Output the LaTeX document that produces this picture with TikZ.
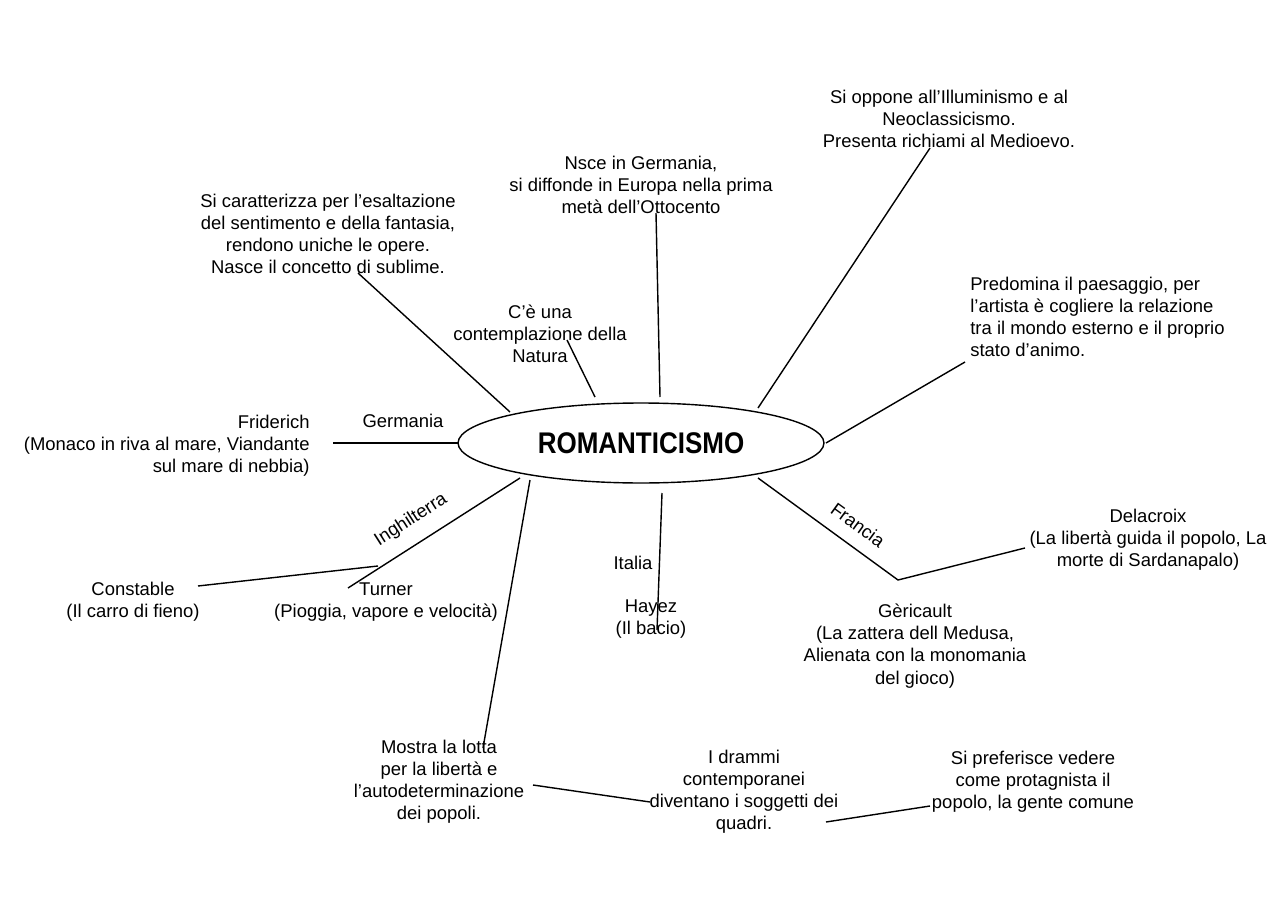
\documentclass[tikz,border=0pt]{standalone}
\usepackage{fontspec}
\setmainfont{Liberation Sans}
\usetikzlibrary{shapes.geometric}
\begin{document}
\begin{tikzpicture}[x=0.02cm,y=-0.02cm,
  txt/.style={font=\fontsize{10.5}{12.6}\selectfont,align=center,inner sep=0pt},
  ln/.style={draw=black,line width=0.8pt}]
\path[use as bounding box] (0,0) rectangle (1280,905);
\node[ellipse,draw,line width=0.8pt,minimum width=7.32cm,minimum height=1.6cm,inner sep=0pt] (c) at (641,443) {};
\node[font=\bfseries\fontsize{17}{20}\selectfont,xscale=0.87] (t) at (641,443) {ROMANTICISMO};
\node[txt] (a) at (328,234) {Si caratterizza per l’esaltazione\\del sentimento e della fantasia,\\rendono uniche le opere.\\Nasce il concetto di sublime.};
\node[txt] (b) at (540,334) {C’è una\\contemplazione della\\Natura};
\node[txt] (n) at (641,185) {Nsce in Germania,\\si diffonde in Europa nella prima\\metà dell’Ottocento};
\node[txt] (o) at (949,119) {Si oppone all’Illuminismo e al\\Neoclassicismo.\\Presenta richiami al Medioevo.};
\node[txt,align=left,anchor=west] (p) at (970,317) {Predomina il paesaggio, per\\l’artista è cogliere la relazione\\tra il mondo esterno e il proprio\\stato d’animo.};
\node[txt,align=right,anchor=east] (f) at (310,446) {Friderich\\(Monaco in riva al mare, Viandante\\sul mare di nebbia)};
\node[txt] (g) at (403,421) {Germania};
\node[txt] (co) at (133,602) {Constable\\(Il carro di fieno)};
\node[txt] (tu) at (386,602) {Turner\\(Pioggia, vapore e velocità)};
\node[txt,rotate=32.6] (ing) at (411,520) {Inghilterra};
\node[txt] (it) at (633,563) {Italia};
\node[txt] (ha) at (651,619) {Hayez\\(Il bacio)};
\node[txt,rotate=-36] (fr) at (858,525) {Francia};
\node[txt] (de) at (1148,540) {Delacroix\\(La libertà guida il popolo, La\\morte di Sardanapalo)};
\node[txt] (ge) at (915,646) {Gèricault\\(La zattera dell Medusa,\\Alienata con la monomania\\del gioco)};
\node[txt] (m) at (439,782) {Mostra la lotta\\per la libertà e\\l’autodeterminazione\\dei popoli.};
\node[txt] (d) at (744,792) {I drammi\\contemporanei\\diventano i soggetti dei\\quadri.};
\node[txt] (s) at (1033,782) {Si preferisce vedere\\come protagnista il\\popolo, la gente comune};
\coordinate (a1) at (510,412); \coordinate (a2) at (358,273);
\coordinate (b1) at (595,397); \coordinate (b2) at (567,340);
\coordinate (n1) at (660,397); \coordinate (n2) at (656,213);
\coordinate (o1) at (758,408); \coordinate (o2) at (930,148);
\coordinate (p1) at (826,443); \coordinate (p2) at (965,362);
\coordinate (f1) at (458,443); \coordinate (f2) at (333,443);
\coordinate (i1) at (520,478); \coordinate (i2) at (348,588);
\coordinate (k1) at (198,586); \coordinate (k2) at (378,566);
\coordinate (m1) at (530,480); \coordinate (m2) at (483,748);
\coordinate (h1) at (662,493); \coordinate (h2) at (657,630);
\coordinate (r1) at (758,478); \coordinate (r2) at (898,580);
\coordinate (r3) at (1025,548);
\coordinate (d1) at (533,785); \coordinate (d2) at (650,802);
\coordinate (e1) at (826,822); \coordinate (e2) at (930,806);
\draw[ln] (a1)--(a2); \draw[ln] (b1)--(b2); \draw[ln] (n1)--(n2);
\draw[ln] (o1)--(o2); \draw[ln] (p1)--(p2); \draw[ln] (f1)--(f2);
\draw[ln] (i1)--(i2); \draw[ln] (k1)--(k2); \draw[ln] (m1)--(m2);
\draw[ln] (h1)--(h2); \draw[ln] (r1)--(r2)--(r3);
\draw[ln] (d1)--(d2); \draw[ln] (e1)--(e2);
\end{tikzpicture}
\end{document}
